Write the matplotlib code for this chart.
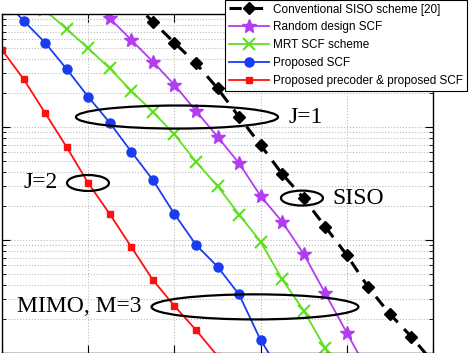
import matplotlib
matplotlib.use("Agg")
import matplotlib.pyplot as plt
import numpy as np
from matplotlib.patches import Ellipse
from matplotlib.ticker import MultipleLocator, LogLocator, NullFormatter

# SNR-like axis values (units) and BER curves
snr_red = [0, 1, 2, 3, 4, 5, 6, 7, 8, 9, 10]
ber_red = [0.0480, 0.0266, 0.0133, 6.65e-3, 3.19e-3, 1.70e-3, 8.67e-4, 4.43e-4, 2.61e-4, 1.60e-4, 9.4e-5]

snr_blue = [0, 1, 2, 3, 4, 5, 6, 7, 8, 9, 10, 11, 12, 13]
ber_blue = [0.139, 0.0873, 0.0557, 0.0326, 0.0185, 0.0109, 6.04e-3, 3.40e-3, 1.70e-3, 9.08e-4, 5.81e-4, 3.30e-4, 1.30e-4, 6.5e-5]

snr_green = [2, 3, 4, 5, 6, 7, 8, 9, 10, 11, 12, 13, 14, 15, 16]
ber_green = [0.108, 0.0736, 0.0497, 0.0330, 0.0209, 0.0136, 8.61e-3, 4.93e-3, 3.01e-3, 1.68e-3, 9.66e-4, 4.49e-4, 2.37e-4, 1.10e-4, 4.5e-5]

snr_mag = [4, 5, 6, 7, 8, 9, 10, 11, 12, 13, 14, 15, 16, 17]
ber_mag = [0.141, 0.0916, 0.0589, 0.0378, 0.0236, 0.0139, 8.20e-3, 4.78e-3, 2.45e-3, 1.45e-3, 7.52e-4, 3.37e-4, 1.51e-4, 6.8e-5]

snr_blk = [6, 7, 8, 9, 10, 11, 12, 13, 14, 15, 16, 17, 18, 19, 20]
ber_blk = [0.131, 0.0855, 0.0557, 0.0366, 0.0220, 0.0123, 6.93e-3, 3.84e-3, 2.34e-3, 1.31e-3, 7.36e-4, 3.81e-4, 2.21e-4, 1.39e-4, 8.3e-5]

labels = ["Conventional SISO scheme [20]", "Random design SCF", "MRT SCF scheme",
          "Proposed SCF", "Proposed precoder & proposed SCF"]

fig = plt.figure(figsize=(4.74, 3.53), dpi=100)
ax = fig.add_axes([2/474, 0.0, 431/474, 339/353])

ax.semilogy(snr_blk, ber_blk, '--', color='black', lw=2.2, marker='D', ms=6.5,
            dashes=(4, 3), label=labels[0])
ax.semilogy(snr_mag, ber_mag, '-', color='#b23cf0', lw=1.3, marker='*', ms=10, label=labels[1])
ax.semilogy(snr_green, ber_green, '-', color='#5fe01e', lw=1.3, marker='x', ms=8, mew=1.5, label=labels[2])
ax.semilogy(snr_blue, ber_blue, '-', color='#1a3cf0', lw=1.3, marker='o', ms=6.5, label=labels[3])
ax.semilogy(snr_red, ber_red, '-', color='#ff1010', lw=1.3, marker='s', ms=5, label=labels[4])

ax.set_xlim(0, 20)
ax.set_ylim(1e-4, 1e-1)
ax.xaxis.set_major_locator(MultipleLocator(4))
ax.yaxis.set_major_locator(LogLocator(base=10))
ax.yaxis.set_minor_locator(LogLocator(base=10, subs=np.arange(2, 10)))
ax.yaxis.set_minor_formatter(NullFormatter())
ax.set_xticklabels([])
ax.set_yticklabels([])
ax.tick_params(which='both', direction='in', top=True, right=True)
ax.tick_params(which='major', length=6)
ax.tick_params(which='minor', length=3)
ax.grid(True, which='major', axis='both', ls=':', color='#bbbbbb', lw=0.8)
ax.grid(True, which='minor', axis='y', ls=':', color='#bbbbbb', lw=0.8)
for s in ax.spines.values():
    s.set_linewidth(1.0)

# annotation ellipses and texts
serif = dict(family='Liberation Serif', fontsize=17, va='center', ha='left', transform=ax.transAxes)
for cx, cy, w, h in [(0.406, 0.696, 0.469, 0.068), (0.1995, 0.5015, 0.0974, 0.047),
                     (0.696, 0.457, 0.0974, 0.044), (0.587, 0.136, 0.480, 0.074)]:
    ax.add_patch(Ellipse((cx, cy), w, h, transform=ax.transAxes, fill=False,
                         ec='black', lw=1.6, zorder=5, clip_on=False))
ax.text(0.664, 0.696, "J=1", **serif)
ax.text(0.049, 0.5015, "J=2", **serif)
ax.text(0.766, 0.457, "SISO", **serif)
ax.text(0.035, 0.136, "MIMO, M=3", **serif)

leg = fig.legend(loc='upper left', bbox_to_anchor=(225/474, 1.0), borderaxespad=0,
                 prop={'family': 'Liberation Sans', 'size': 8.5}, handlelength=3.4,
                 numpoints=1, fancybox=False, framealpha=1, edgecolor='black',
                 borderpad=0.3, labelspacing=0.5, handletextpad=0.4)
leg.get_frame().set_linewidth(0.8)

fig.savefig("out.png", dpi=100)
